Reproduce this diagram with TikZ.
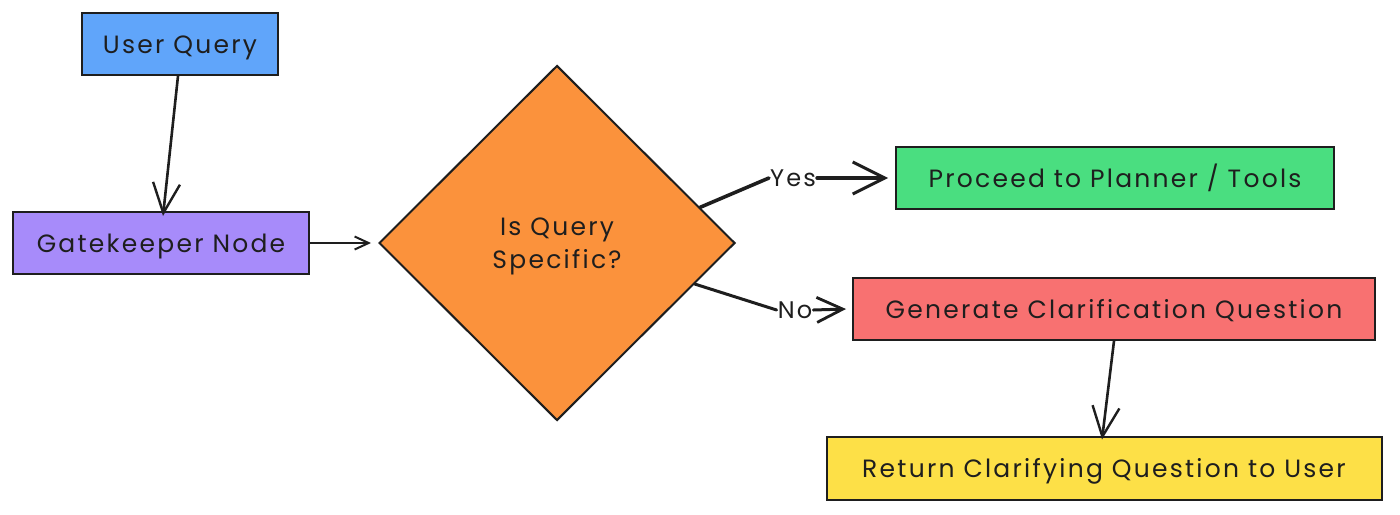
\documentclass[tikz,border=0pt]{standalone}
\usepackage{fontspec}
\setmainfont{Poppins}[LetterSpace=9]
\usetikzlibrary{shapes.geometric,arrows.meta,calc}
\definecolor{cblue}{HTML}{60A5FA}
\definecolor{cpurple}{HTML}{A78BFA}
\definecolor{corange}{HTML}{FB923C}
\definecolor{cgreen}{HTML}{4ADE80}
\definecolor{cred}{HTML}{F87171}
\definecolor{cyellow}{HTML}{FDE047}
\definecolor{ink}{HTML}{1E1E1E}
\tikzset{
  box/.style={draw=ink, line width=2pt, rectangle, inner sep=0pt, font=\fontsize{25}{30}\selectfont, text=ink, text height=18pt, text depth=0pt},
  lbl/.style={inner sep=1pt, font=\fontsize{24}{28}\selectfont, text=ink},
  conn/.style={draw=ink, line width=2.6pt, line cap=round},
  arr/.style={conn, -{Straight Barb[length=30pt,width=27pt,line width=2.4pt]}},
}
\begin{document}
\begin{tikzpicture}[x=1pt,y=-1pt]
\useasboundingbox (0,0) rectangle (1400,514);
\node[box, fill=cblue, minimum width=196pt, minimum height=62pt] (uq) at (180,44) {User Query};
\node[box, fill=cpurple, minimum width=296pt, minimum height=62pt] (gk) at (161,243) {Gatekeeper Node};
\node[draw=ink, line width=2pt, diamond, fill=corange, minimum width=356pt, minimum height=355pt, inner sep=0pt] (dm) at (557,243) {};
\node[align=center, font=\fontsize{25}{33}\selectfont, text=ink, inner sep=0pt] (dmt) at ([yshift=-3pt]dm.center) {Is Query\\Specific?};
\node[box, fill=cgreen, minimum width=438pt, minimum height=62pt] (pr) at (1115,178) {Proceed to Planner / Tools};
\node[box, fill=cred, minimum width=522pt, minimum height=62pt] (gc) at (1114,309) {Generate Clarification Question};
\node[box, fill=cyellow, minimum width=555pt, minimum height=63pt] (rc) at (1104,468) {Return Clarifying Question to User};
\node[lbl] (yes) at (793,178) {Yes};
\node[lbl] (no) at (795,310) {No};
\coordinate (ys) at ($(dm.north)!0.8!(dm.east)$);
\coordinate (ns) at ($(dm.east)!0.23!(dm.south)$);
\coordinate (uqs) at ([xshift=-2pt]uq.south);
\coordinate (gke) at ([xshift=2pt,yshift=-5pt]gk.north);
\draw[arr] (uqs) -- (gke);
\draw[conn, line width=2.2pt, -{Straight Barb[length=14pt,width=13pt,line width=2pt]}] (gk.east) -- ([xshift=-7pt]dm.west);
\draw[conn, line width=3.6pt] (ys) -- (yes.west);
\draw[conn, line width=3.6pt, -{Straight Barb[length=32pt,width=32pt,line width=3pt]}] (yes.east) -- ([xshift=-7pt]pr.west);
\draw[conn, line width=3pt] (ns) -- (no.west);
\draw[conn, line width=3pt, -{Straight Barb[length=26pt,width=25pt,line width=2.8pt]}] (no.east) -- ([xshift=-6pt]gc.west);
\draw[arr] (gc.south) -- ([xshift=-2pt,yshift=-4pt]rc.north);
\end{tikzpicture}
\end{document}
